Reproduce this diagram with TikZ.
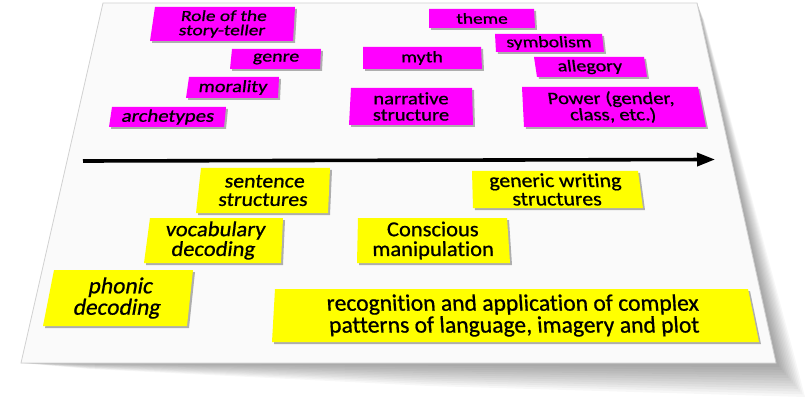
\documentclass[tikz,border=0pt]{standalone}
\usepackage{fontspec}
\setmainfont{Carlito}
\newfontfamily\notefont{Carlito}[FakeBold=0.7, Ligatures=NoCommon]
\usetikzlibrary{arrows.meta,calc}
\definecolor{notepink}{RGB}{255,0,255}
\definecolor{noteyellow}{RGB}{255,255,0}
\definecolor{sheetfill}{RGB}{250,250,250}
\tikzset{
  sheetedge/.style={draw=black!18, line width=0.8pt, fill=sheetfill},
  noteshadow/.style={fill=black, opacity=0.3},
  timeline/.style={line width=3.6pt, -{Triangle[length=18pt,width=13pt]}},
  notetext/.style={inner sep=0pt, align=center, text=black},
}
\newcommand{\stickynote}[6]{%
  \fill[noteshadow, shift={(2,2)}] #3 -- cycle;
  \fill[#2] #3 -- cycle;
  \pgfmathsetmacro\nF{0.99*(19.301+0.014442*(#5-3))}
  \pgfmathsetmacro\nL{0.93*\nF}
  \pgfmathsetmacro\nR{0.79+0.00072*(#5-24)}
  \pgfmathsetmacro\nS{(407-#4)/(#5+1332)}
  \node[notetext, xslant=\nS, yscale=\nR, font=\notefont\fontsize{\nF}{\nL}\selectfont] (#1) at (#4,#5) {#6};
}
\begin{document}
\begin{tikzpicture}[x=1pt,y=-1pt]
\useasboundingbox[fill=white] (0,0) rectangle (809,401);
% sheet shadow
\coordinate (i1) at (700.7,20);
\coordinate (i2) at (776,362);
\coordinate (i3) at (776,363);
\coordinate (i4) at (430,363);
\coordinate (i5) at (90,363);
\coordinate (o1) at (704,20);
\coordinate (o2) at (796,362);
\coordinate (o3) at (805,397);
\coordinate (o4) at (430,386);
\coordinate (o5) at (90,369);
\foreach \t in {1,0.92,0.84,0.76,0.68,0.6,0.52,0.44,0.36,0.28,0.2,0.12}{
  \fill[black, opacity=0.03] (697,3) -- ($(i1)!\t!(o1)$) -- ($(i2)!\t!(o2)$) -- ($(i3)!\t!(o3)$) -- ($(i4)!\t!(o4)$) -- ($(i5)!\t!(o5)$) -- (21,363) -- cycle;
}
% sheet
\path[sheetedge] (103,3) -- (697,3) -- (776,363) -- (21,363) -- cycle;
% notes
\stickynote{role}{notepink}{(155,7) -- (295,7) -- (293,41) -- (150,41)}{223}{24}{Role of the\\story-teller}
\stickynote{genre}{notepink}{(232,49) -- (321,49) -- (320,69) -- (230,69)}{276}{59}{genre}
\stickynote{morality}{notepink}{(189,77) -- (279,77) -- (278,98) -- (186,98)}{233}{87.5}{morality}
\stickynote{archetypes}{notepink}{(112,107) -- (226,107) -- (224,127) -- (109,127)}{168}{117}{archetypes}
\stickynote{theme}{notepink}{(429,9) -- (534,9) -- (535,28) -- (429,28)}{482}{18.5}{theme}
\stickynote{symbolism}{notepink}{(495,34) -- (602,34) -- (604,52) -- (496,52)}{549}{43}{symbolism}
\stickynote{myth}{notepink}{(363,47) -- (481,47) -- (482,69) -- (363,69)}{422}{58}{myth}
\stickynote{allegory}{notepink}{(534,57) -- (644,57) -- (647,77) -- (537,77)}{590}{67}{allegory}
\stickynote{narrative}{notepink}{(351,88) -- (472,88) -- (473,125) -- (349,125)}{411}{106.5}{narrative\\structure}
\stickynote{power}{notepink}{(522,87) -- (698,87) -- (706,127) -- (524,127)}{612}{107}{Power (gender,\\class, etc.)}
\stickynote{sentence}{noteyellow}{(201,168) -- (330,168) -- (328,213) -- (196,213)}{264}{190.5}{sentence\\structures}
\stickynote{generic}{noteyellow}{(472,171) -- (638,171) -- (643,208) -- (473,208)}{556}{189.5}{generic writing\\structures}
\stickynote{vocab}{noteyellow}{(150,218) -- (283,218) -- (281,263) -- (144,263)}{214.5}{240.5}{vocabulary\\decoding}
\stickynote{conscious}{noteyellow}{(358,218) -- (507,218) -- (510,263) -- (357,263)}{433}{240.5}{Conscious\\manipulation}
\stickynote{phonic}{noteyellow}{(54,270) -- (193,270) -- (187,326) -- (43,326)}{119}{298}{phonic\\decoding}
\stickynote{recog}{noteyellow}{(275,289) -- (748,289) -- (759,342) -- (272,342)}{513.5}{315.5}{recognition and application of complex\\patterns of language, imagery and plot}
% timeline arrow
\coordinate (tlS) at (83,161);
\coordinate (tlE) at (715,159.5);
\draw[timeline] (tlS) -- (tlE);
\end{tikzpicture}
\end{document}
